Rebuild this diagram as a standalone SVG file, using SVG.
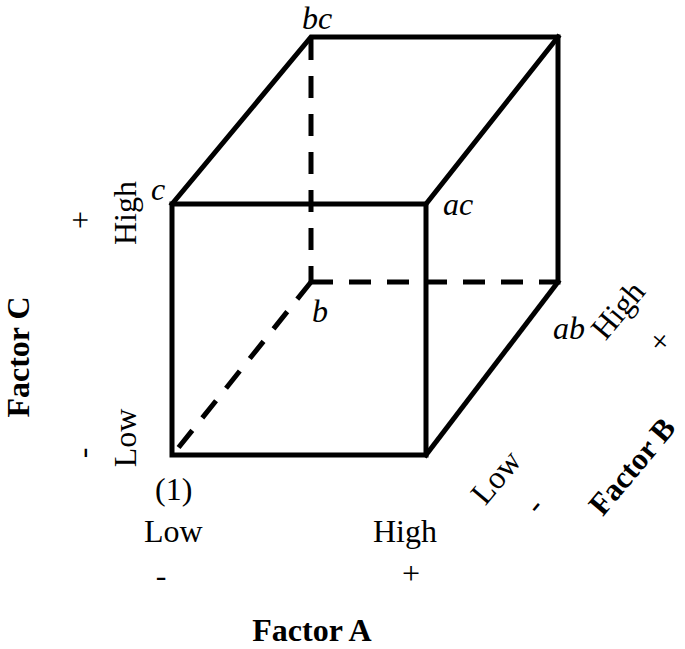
<svg xmlns="http://www.w3.org/2000/svg" width="685" height="649" viewBox="0 0 685 649">
<style>
.e{stroke:#000;stroke-width:5;fill:none;stroke-linecap:square;stroke-linejoin:miter}
.d{stroke:#000;stroke-width:5;fill:none;stroke-dasharray:22 16}
text{font-family:"Liberation Serif","Times New Roman",serif;font-size:32px;fill:#000}
.i{font-style:italic}
.b{font-weight:bold}
.m{text-anchor:middle}
</style>
<rect width="685" height="649" fill="#fff"/>
<g id="connectors">
<path class="d" d="M311,38 V282"/>
<path class="d" d="M311,282 H557"/>
<path class="d" d="M311,282 L175,452"/>
<path class="e" d="M172,204 H426 V455 H172 Z"/>
<path class="e" d="M172,204 L311,37 H558 V282"/>
<path class="e" d="M426,204 L558,37"/>
<path class="e" d="M426,455 L558,282"/>
</g>
<g id="node-bc"><text class="i" x="302" y="29">bc</text></g>
<g id="node-c"><text class="i" x="151" y="200">c</text></g>
<g id="node-ac"><text class="i" x="443" y="215">ac</text></g>
<g id="node-b"><text class="i" x="312" y="322">b</text></g>
<g id="node-ab"><text class="i" x="553" y="339">ab</text></g>
<g id="node-1"><text x="155" y="500">(1)</text></g>
<g id="axis-a">
<text x="144" y="542">Low</text>
<text x="373" y="542">High</text>
<text class="m" x="161" y="586">-</text>
<text class="m" x="411" y="584">+</text>
<text class="b m" x="312" y="641">Factor A</text>
</g>
<g id="axis-c">
<text class="b m" transform="translate(29,357) rotate(-90)">Factor C</text>
<text class="m" transform="translate(136,213) rotate(-90)">High</text>
<text class="m" transform="translate(136,438) rotate(-90)">Low</text>
<text class="m" transform="translate(91,220) rotate(-90)">+</text>
<text class="m" transform="translate(93,453) rotate(-90)">-</text>
</g>
<g id="axis-b">
<text class="b m" style="font-size:31px" transform="translate(640,473) rotate(-50)">Factor B</text>
<text class="m" transform="translate(626,317) rotate(-50)">High</text>
<text class="m" transform="translate(504,484) rotate(-50)">Low</text>
<text class="m" transform="translate(668,348) rotate(-50)">+</text>
<text class="m" transform="translate(542,512) rotate(-50)">-</text>
</g>
</svg>
